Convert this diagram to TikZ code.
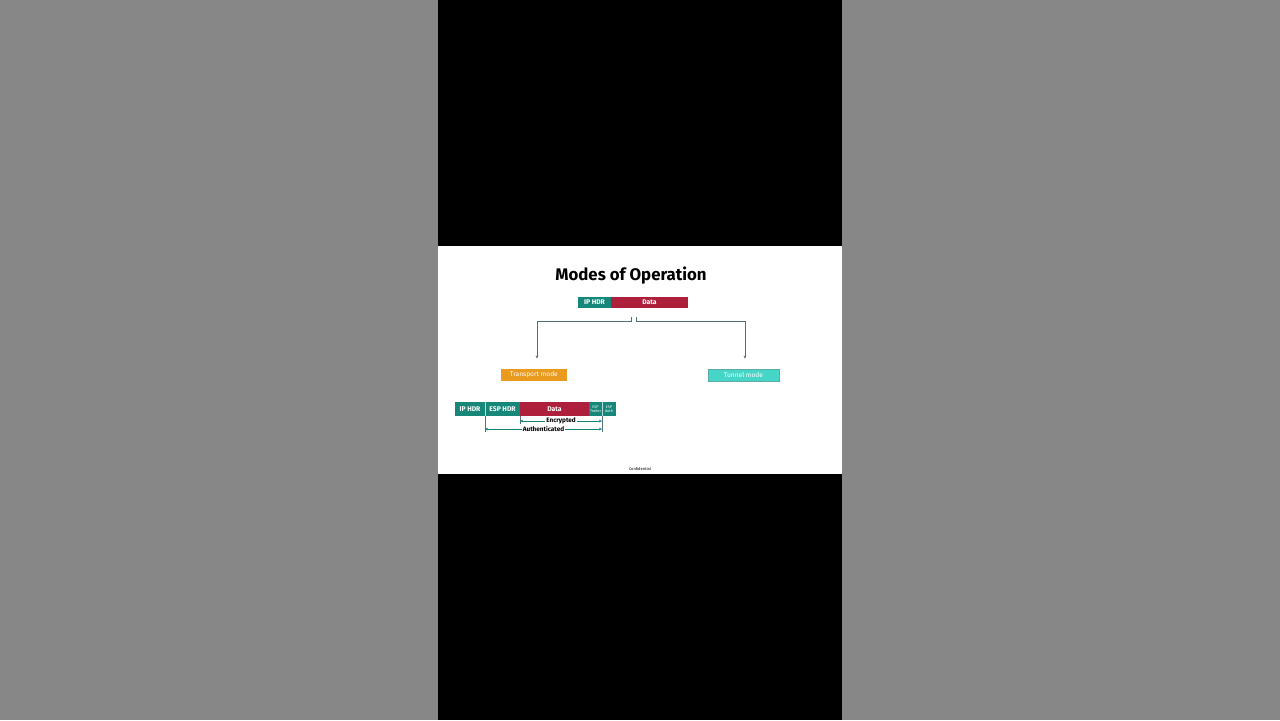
\documentclass[tikz,border=0pt]{standalone}
\usepackage{fontspec}
\setmainfont{Fira Sans}
\usetikzlibrary{positioning,arrows.meta}
\definecolor{hdrteal}{HTML}{17877A}
\definecolor{datared}{HTML}{AE1F3C}
\definecolor{modeorange}{HTML}{E99A1F}
\definecolor{modecyan}{HTML}{45D6C8}
\definecolor{linegrey}{HTML}{557078}
\definecolor{sidegrey}{HTML}{878787}

\begin{document}
\begin{tikzpicture}[x=0.5pt, y=-0.5pt,
        field/.style = {fill=#1, text=white, inner sep=0pt, outer sep=0pt, font=\fontsize{3.4}{4}\selectfont\bfseries},
        mode/.style = {fill=#1, minimum width=33pt, minimum height=6pt, inner sep=0pt, text=white, font=\fontsize{3.3}{4}\selectfont},
        fork/.style = {draw=linegrey, line width=0.35pt, -{Stealth[length=1.6pt,width=1.4pt]}},
        span/.style = {draw=hdrteal, line width=0.35pt, {Stealth[length=1.6pt,width=1.4pt]}-{Stealth[length=1.6pt,width=1.4pt]}},
        tick/.style = {draw=linegrey, line width=0.3pt}]

        % backdrop
        \fill[sidegrey] (0,0) rectangle (1280,720);
        \fill[black] (438,0) rectangle (842,720);
        \fill[white] (438,246) rectangle (842,474);

        \node (title) at (631,275.5) {\fontsize{8.4}{10}\selectfont\bfseries Modes of Operation};

        % original packet
        \node[field=hdrteal, minimum width=16.5pt, minimum height=5.5pt, anchor=west] (iphdr) at (578,302.5) {IP HDR};
        \node[field=datared, minimum width=38.5pt, minimum height=5.5pt] (data) [right=0pt of iphdr] {Data};

        % modes
        \node[mode=modeorange] (transport) at (534,375) {Transport mode};
        \node[mode=modecyan, draw=hdrteal!70, line width=0.3pt, minimum width=35.5pt] (tunnel) at (743.5,375) {Tunnel mode};

        \coordinate (forkL) at (631,317);
        \coordinate (forkR) at (636,317);
        \draw[fork, shorten >=5pt] (forkL) -- ++(0,4) -| ([xshift=1.5pt]transport.north);
        \draw[fork, shorten >=5pt] (forkR) -- ++(0,4) -| ([xshift=0.75pt]tunnel.north);

        % ESP transport packet
        \node[field=hdrteal, minimum width=15pt, minimum height=7pt, anchor=west] (tiphdr) at (455,409) {IP HDR};
        \node[field=hdrteal, minimum width=17.5pt, minimum height=7pt] (esphdr) [right=0pt of tiphdr] {ESP HDR};
        \node[field=datared, minimum width=34.5pt, minimum height=7pt] (espdata) [right=0pt of esphdr] {Data};
        \node[field=hdrteal, minimum width=6.5pt, minimum height=7pt, align=center, font=\fontsize{1.9}{2.2}\selectfont] (esptrl) [right=0pt of espdata] {ESP\\Trailer};
        \node[field=hdrteal, minimum width=7pt, minimum height=7pt, align=center, font=\fontsize{1.9}{2.2}\selectfont] (espauth) [right=0pt of esptrl] {ESP\\Auth};
        \draw[white!70!hdrteal, line width=0.2pt] (esphdr.north west) -- (esphdr.south west) (esptrl.north east) -- (esptrl.south east);

        \coordinate (encL) at (520,421);
        \coordinate (encR) at (602,421);
        \coordinate (autL) at (485,429);
        \coordinate (autR) at (602,429);
        \draw[tick] (espdata.south west) -- ++(0,8);
        \draw[tick] (esptrl.south east) -- ++(0,16);
        \draw[tick] (esphdr.south west) -- ++(0,16);
        \draw[span] (encL) -- (encR) node [midway, fill=white, inner sep=0.4pt, font=\fontsize{3.2}{4}\selectfont\bfseries] {Encrypted};
        \draw[span] (autL) -- (autR) node [midway, fill=white, inner sep=0.4pt, font=\fontsize{3.2}{4}\selectfont\bfseries] {Authenticated};

        \node (conf) at (640,469) {\fontsize{2}{2.4}\selectfont Confidential};

    \end{tikzpicture}
\end{document}
